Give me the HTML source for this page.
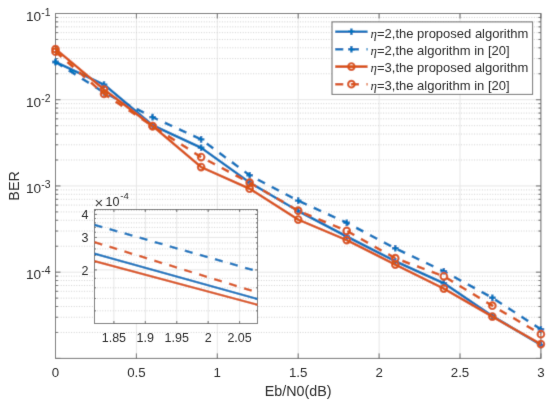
<!DOCTYPE html>
<html><head><meta charset="utf-8"><style>
html,body{margin:0;padding:0;background:#fff;}
body{width:550px;height:406px;position:relative;overflow:hidden;}
</style></head><body>
<svg width="550" height="406" viewBox="0 0 550 406" style="position:absolute;left:0;top:0">
<defs><filter id="soft" x="0" y="0" width="550" height="406" filterUnits="userSpaceOnUse"><feConvolveMatrix order="3" kernelMatrix="0.0144 0.0912 0.0144 0.0912 0.5776 0.0912 0.0144 0.0912 0.0144" edgeMode="duplicate"/></filter><filter id="tsoft" x="0" y="0" width="550" height="406" filterUnits="userSpaceOnUse"><feConvolveMatrix order="3" kernelMatrix="0.0036 0.0528 0.0036 0.0528 0.7744 0.0528 0.0036 0.0528 0.0036" edgeMode="duplicate"/></filter></defs>
<g filter="url(#soft)">
<rect x="0" y="0" width="550" height="406" fill="#fff"/>
<line x1="136.4" y1="13.5" x2="136.4" y2="358.4" stroke="#e6e6e6" stroke-width="1"/>
<line x1="217.3" y1="13.5" x2="217.3" y2="358.4" stroke="#e6e6e6" stroke-width="1"/>
<line x1="298.2" y1="13.5" x2="298.2" y2="358.4" stroke="#e6e6e6" stroke-width="1"/>
<line x1="379.1" y1="13.5" x2="379.1" y2="358.4" stroke="#e6e6e6" stroke-width="1"/>
<line x1="460" y1="13.5" x2="460" y2="358.4" stroke="#e6e6e6" stroke-width="1"/>
<line x1="55.5" y1="99.72" x2="540.9" y2="99.72" stroke="#e6e6e6" stroke-width="1"/>
<line x1="55.5" y1="185.95" x2="540.9" y2="185.95" stroke="#e6e6e6" stroke-width="1"/>
<line x1="55.5" y1="272.17" x2="540.9" y2="272.17" stroke="#e6e6e6" stroke-width="1"/>
<line x1="55.5" y1="332.44" x2="540.9" y2="332.44" stroke="#d0d0d0" stroke-width="1" stroke-dasharray="1 1.6"/>
<line x1="55.5" y1="317.26" x2="540.9" y2="317.26" stroke="#d0d0d0" stroke-width="1" stroke-dasharray="1 1.6"/>
<line x1="55.5" y1="306.49" x2="540.9" y2="306.49" stroke="#d0d0d0" stroke-width="1" stroke-dasharray="1 1.6"/>
<line x1="55.5" y1="298.13" x2="540.9" y2="298.13" stroke="#d0d0d0" stroke-width="1" stroke-dasharray="1 1.6"/>
<line x1="55.5" y1="291.3" x2="540.9" y2="291.3" stroke="#d0d0d0" stroke-width="1" stroke-dasharray="1 1.6"/>
<line x1="55.5" y1="285.53" x2="540.9" y2="285.53" stroke="#d0d0d0" stroke-width="1" stroke-dasharray="1 1.6"/>
<line x1="55.5" y1="280.53" x2="540.9" y2="280.53" stroke="#d0d0d0" stroke-width="1" stroke-dasharray="1 1.6"/>
<line x1="55.5" y1="276.12" x2="540.9" y2="276.12" stroke="#d0d0d0" stroke-width="1" stroke-dasharray="1 1.6"/>
<line x1="55.5" y1="246.22" x2="540.9" y2="246.22" stroke="#d0d0d0" stroke-width="1" stroke-dasharray="1 1.6"/>
<line x1="55.5" y1="231.04" x2="540.9" y2="231.04" stroke="#d0d0d0" stroke-width="1" stroke-dasharray="1 1.6"/>
<line x1="55.5" y1="220.26" x2="540.9" y2="220.26" stroke="#d0d0d0" stroke-width="1" stroke-dasharray="1 1.6"/>
<line x1="55.5" y1="211.91" x2="540.9" y2="211.91" stroke="#d0d0d0" stroke-width="1" stroke-dasharray="1 1.6"/>
<line x1="55.5" y1="205.08" x2="540.9" y2="205.08" stroke="#d0d0d0" stroke-width="1" stroke-dasharray="1 1.6"/>
<line x1="55.5" y1="199.31" x2="540.9" y2="199.31" stroke="#d0d0d0" stroke-width="1" stroke-dasharray="1 1.6"/>
<line x1="55.5" y1="194.31" x2="540.9" y2="194.31" stroke="#d0d0d0" stroke-width="1" stroke-dasharray="1 1.6"/>
<line x1="55.5" y1="189.9" x2="540.9" y2="189.9" stroke="#d0d0d0" stroke-width="1" stroke-dasharray="1 1.6"/>
<line x1="55.5" y1="159.99" x2="540.9" y2="159.99" stroke="#d0d0d0" stroke-width="1" stroke-dasharray="1 1.6"/>
<line x1="55.5" y1="144.81" x2="540.9" y2="144.81" stroke="#d0d0d0" stroke-width="1" stroke-dasharray="1 1.6"/>
<line x1="55.5" y1="134.04" x2="540.9" y2="134.04" stroke="#d0d0d0" stroke-width="1" stroke-dasharray="1 1.6"/>
<line x1="55.5" y1="125.68" x2="540.9" y2="125.68" stroke="#d0d0d0" stroke-width="1" stroke-dasharray="1 1.6"/>
<line x1="55.5" y1="118.85" x2="540.9" y2="118.85" stroke="#d0d0d0" stroke-width="1" stroke-dasharray="1 1.6"/>
<line x1="55.5" y1="113.08" x2="540.9" y2="113.08" stroke="#d0d0d0" stroke-width="1" stroke-dasharray="1 1.6"/>
<line x1="55.5" y1="108.08" x2="540.9" y2="108.08" stroke="#d0d0d0" stroke-width="1" stroke-dasharray="1 1.6"/>
<line x1="55.5" y1="103.67" x2="540.9" y2="103.67" stroke="#d0d0d0" stroke-width="1" stroke-dasharray="1 1.6"/>
<line x1="55.5" y1="73.77" x2="540.9" y2="73.77" stroke="#d0d0d0" stroke-width="1" stroke-dasharray="1 1.6"/>
<line x1="55.5" y1="58.59" x2="540.9" y2="58.59" stroke="#d0d0d0" stroke-width="1" stroke-dasharray="1 1.6"/>
<line x1="55.5" y1="47.81" x2="540.9" y2="47.81" stroke="#d0d0d0" stroke-width="1" stroke-dasharray="1 1.6"/>
<line x1="55.5" y1="39.46" x2="540.9" y2="39.46" stroke="#d0d0d0" stroke-width="1" stroke-dasharray="1 1.6"/>
<line x1="55.5" y1="32.63" x2="540.9" y2="32.63" stroke="#d0d0d0" stroke-width="1" stroke-dasharray="1 1.6"/>
<line x1="55.5" y1="26.86" x2="540.9" y2="26.86" stroke="#d0d0d0" stroke-width="1" stroke-dasharray="1 1.6"/>
<line x1="55.5" y1="21.86" x2="540.9" y2="21.86" stroke="#d0d0d0" stroke-width="1" stroke-dasharray="1 1.6"/>
<line x1="55.5" y1="17.45" x2="540.9" y2="17.45" stroke="#d0d0d0" stroke-width="1" stroke-dasharray="1 1.6"/>
<g stroke="#606060" stroke-width="1" fill="none">
<rect x="55.5" y="13.5" width="485.4" height="344.9"/>
<path d="M55.5 358.4V353.4M55.5 13.5V18.5M136.4 358.4V353.4M136.4 13.5V18.5M217.3 358.4V353.4M217.3 13.5V18.5M298.2 358.4V353.4M298.2 13.5V18.5M379.1 358.4V353.4M379.1 13.5V18.5M460 358.4V353.4M460 13.5V18.5M540.9 358.4V353.4M540.9 13.5V18.5M55.5 13.5H60.5M540.9 13.5H535.9M55.5 99.72H60.5M540.9 99.72H535.9M55.5 185.95H60.5M540.9 185.95H535.9M55.5 272.17H60.5M540.9 272.17H535.9M55.5 358.4H60.5M540.9 358.4H535.9M55.5 332.44H58M540.9 332.44H538.4M55.5 317.26H58M540.9 317.26H538.4M55.5 306.49H58M540.9 306.49H538.4M55.5 298.13H58M540.9 298.13H538.4M55.5 291.3H58M540.9 291.3H538.4M55.5 285.53H58M540.9 285.53H538.4M55.5 280.53H58M540.9 280.53H538.4M55.5 276.12H58M540.9 276.12H538.4M55.5 246.22H58M540.9 246.22H538.4M55.5 231.04H58M540.9 231.04H538.4M55.5 220.26H58M540.9 220.26H538.4M55.5 211.91H58M540.9 211.91H538.4M55.5 205.08H58M540.9 205.08H538.4M55.5 199.31H58M540.9 199.31H538.4M55.5 194.31H58M540.9 194.31H538.4M55.5 189.9H58M540.9 189.9H538.4M55.5 159.99H58M540.9 159.99H538.4M55.5 144.81H58M540.9 144.81H538.4M55.5 134.04H58M540.9 134.04H538.4M55.5 125.68H58M540.9 125.68H538.4M55.5 118.85H58M540.9 118.85H538.4M55.5 113.08H58M540.9 113.08H538.4M55.5 108.08H58M540.9 108.08H538.4M55.5 103.67H58M540.9 103.67H538.4M55.5 73.77H58M540.9 73.77H538.4M55.5 58.59H58M540.9 58.59H538.4M55.5 47.81H58M540.9 47.81H538.4M55.5 39.46H58M540.9 39.46H538.4M55.5 32.63H58M540.9 32.63H538.4M55.5 26.86H58M540.9 26.86H538.4M55.5 21.86H58M540.9 21.86H538.4M55.5 17.45H58M540.9 17.45H538.4"/>
</g>
<polyline points="55.5,62 104.04,84.6 152.58,125.3 201.12,147.7 249.66,182.5 298.2,211 346.74,236.5 395.28,261.2 443.82,283.2 492.36,316 540.9,345" fill="none" stroke="#0072BD" stroke-width="2.6" stroke-linejoin="round"/>
<path d="M52.2 62H58.8M55.5 58.7V65.3" stroke="#0072BD" stroke-width="2.4" fill="none"/>
<path d="M100.74 84.6H107.34M104.04 81.3V87.9" stroke="#0072BD" stroke-width="2.4" fill="none"/>
<path d="M149.28 125.3H155.88M152.58 122V128.6" stroke="#0072BD" stroke-width="2.4" fill="none"/>
<path d="M197.82 147.7H204.42M201.12 144.4V151" stroke="#0072BD" stroke-width="2.4" fill="none"/>
<path d="M246.36 182.5H252.96M249.66 179.2V185.8" stroke="#0072BD" stroke-width="2.4" fill="none"/>
<path d="M294.9 211H301.5M298.2 207.7V214.3" stroke="#0072BD" stroke-width="2.4" fill="none"/>
<path d="M343.44 236.5H350.04M346.74 233.2V239.8" stroke="#0072BD" stroke-width="2.4" fill="none"/>
<path d="M391.98 261.2H398.58M395.28 257.9V264.5" stroke="#0072BD" stroke-width="2.4" fill="none"/>
<path d="M440.52 283.2H447.12M443.82 279.9V286.5" stroke="#0072BD" stroke-width="2.4" fill="none"/>
<path d="M489.06 316H495.66M492.36 312.7V319.3" stroke="#0072BD" stroke-width="2.4" fill="none"/>
<path d="M537.6 345H544.2M540.9 341.7V348.3" stroke="#0072BD" stroke-width="2.4" fill="none"/>
<polyline points="55.5,62 104.04,92.5 152.58,117.1 201.12,139.4 249.66,175.3 298.2,200.65 346.74,222.8 395.28,248.3 443.82,271.3 492.36,297.8 540.9,329.3" fill="none" stroke="#0072BD" stroke-width="2.6" stroke-linejoin="round" stroke-dasharray="8.1 7.55"/>
<path d="M52.2 62H58.8M55.5 58.7V65.3" stroke="#0072BD" stroke-width="2.4" fill="none"/>
<path d="M100.74 92.5H107.34M104.04 89.2V95.8" stroke="#0072BD" stroke-width="2.4" fill="none"/>
<path d="M149.28 117.1H155.88M152.58 113.8V120.4" stroke="#0072BD" stroke-width="2.4" fill="none"/>
<path d="M197.82 139.4H204.42M201.12 136.1V142.7" stroke="#0072BD" stroke-width="2.4" fill="none"/>
<path d="M246.36 175.3H252.96M249.66 172V178.6" stroke="#0072BD" stroke-width="2.4" fill="none"/>
<path d="M294.9 200.65H301.5M298.2 197.35V203.95" stroke="#0072BD" stroke-width="2.4" fill="none"/>
<path d="M343.44 222.8H350.04M346.74 219.5V226.1" stroke="#0072BD" stroke-width="2.4" fill="none"/>
<path d="M391.98 248.3H398.58M395.28 245V251.6" stroke="#0072BD" stroke-width="2.4" fill="none"/>
<path d="M440.52 271.3H447.12M443.82 268V274.6" stroke="#0072BD" stroke-width="2.4" fill="none"/>
<path d="M489.06 297.8H495.66M492.36 294.5V301.1" stroke="#0072BD" stroke-width="2.4" fill="none"/>
<path d="M537.6 329.3H544.2M540.9 326V332.6" stroke="#0072BD" stroke-width="2.4" fill="none"/>
<polyline points="55.5,49 104.04,89.5 152.58,126.1 201.12,167.1 249.66,188.7 298.2,219.6 346.74,240.1 395.28,264.6 443.82,288.6 492.36,316.6 540.9,344.1" fill="none" stroke="#D95319" stroke-width="2.6" stroke-linejoin="round"/>
<circle cx="55.5" cy="49" r="3.3" fill="none" stroke="#D95319" stroke-width="2.1"/>
<circle cx="104.04" cy="89.5" r="3.3" fill="none" stroke="#D95319" stroke-width="2.1"/>
<circle cx="152.58" cy="126.1" r="3.3" fill="none" stroke="#D95319" stroke-width="2.1"/>
<circle cx="201.12" cy="167.1" r="3.3" fill="none" stroke="#D95319" stroke-width="2.1"/>
<circle cx="249.66" cy="188.7" r="3.3" fill="none" stroke="#D95319" stroke-width="2.1"/>
<circle cx="298.2" cy="219.6" r="3.3" fill="none" stroke="#D95319" stroke-width="2.1"/>
<circle cx="346.74" cy="240.1" r="3.3" fill="none" stroke="#D95319" stroke-width="2.1"/>
<circle cx="395.28" cy="264.6" r="3.3" fill="none" stroke="#D95319" stroke-width="2.1"/>
<circle cx="443.82" cy="288.6" r="3.3" fill="none" stroke="#D95319" stroke-width="2.1"/>
<circle cx="492.36" cy="316.6" r="3.3" fill="none" stroke="#D95319" stroke-width="2.1"/>
<circle cx="540.9" cy="344.1" r="3.3" fill="none" stroke="#D95319" stroke-width="2.1"/>
<polyline points="55.5,51.7 104.04,94 152.58,126.1 201.12,157.1 249.66,182.7 298.2,210.7 346.74,230.9 395.28,258.2 443.82,276.3 492.36,305.7 540.9,334.2" fill="none" stroke="#D95319" stroke-width="2.6" stroke-linejoin="round" stroke-dasharray="8.1 7.55"/>
<circle cx="55.5" cy="51.7" r="3.3" fill="none" stroke="#D95319" stroke-width="2.1"/>
<circle cx="104.04" cy="94" r="3.3" fill="none" stroke="#D95319" stroke-width="2.1"/>
<circle cx="152.58" cy="126.1" r="3.3" fill="none" stroke="#D95319" stroke-width="2.1"/>
<circle cx="201.12" cy="157.1" r="3.3" fill="none" stroke="#D95319" stroke-width="2.1"/>
<circle cx="249.66" cy="182.7" r="3.3" fill="none" stroke="#D95319" stroke-width="2.1"/>
<circle cx="298.2" cy="210.7" r="3.3" fill="none" stroke="#D95319" stroke-width="2.1"/>
<circle cx="346.74" cy="230.9" r="3.3" fill="none" stroke="#D95319" stroke-width="2.1"/>
<circle cx="395.28" cy="258.2" r="3.3" fill="none" stroke="#D95319" stroke-width="2.1"/>
<circle cx="443.82" cy="276.3" r="3.3" fill="none" stroke="#D95319" stroke-width="2.1"/>
<circle cx="492.36" cy="305.7" r="3.3" fill="none" stroke="#D95319" stroke-width="2.1"/>
<circle cx="540.9" cy="334.2" r="3.3" fill="none" stroke="#D95319" stroke-width="2.1"/>
<rect x="332" y="21.9" width="200.6" height="72.5" fill="#fff" stroke="#606060" stroke-width="1"/>
<polyline points="335.2,31.8 367.6,31.8" fill="none" stroke="#0072BD" stroke-width="2.6" stroke-linejoin="round"/>
<path d="M348.1 31.8H354.7M351.4 28.5V35.1" stroke="#0072BD" stroke-width="2.4" fill="none"/>
<polyline points="335.2,49.2 367.6,49.2" fill="none" stroke="#0072BD" stroke-width="2.6" stroke-linejoin="round" stroke-dasharray="8.1 7.55"/>
<path d="M348.1 49.2H354.7M351.4 45.9V52.5" stroke="#0072BD" stroke-width="2.4" fill="none"/>
<polyline points="335.2,66.6 367.6,66.6" fill="none" stroke="#D95319" stroke-width="2.6" stroke-linejoin="round"/>
<circle cx="351.4" cy="66.6" r="3.3" fill="none" stroke="#D95319" stroke-width="2.1"/>
<polyline points="335.2,84.2 367.6,84.2" fill="none" stroke="#D95319" stroke-width="2.6" stroke-linejoin="round" stroke-dasharray="8.1 7.55"/>
<circle cx="351.4" cy="84.2" r="3.3" fill="none" stroke="#D95319" stroke-width="2.1"/>
<rect x="94.5" y="209.5" width="163" height="114" fill="#fff"/>
<line x1="113.9" y1="209.5" x2="113.9" y2="323.5" stroke="#e6e6e6" stroke-width="1"/>
<line x1="145.32" y1="209.5" x2="145.32" y2="323.5" stroke="#e6e6e6" stroke-width="1"/>
<line x1="176.75" y1="209.5" x2="176.75" y2="323.5" stroke="#e6e6e6" stroke-width="1"/>
<line x1="208.17" y1="209.5" x2="208.17" y2="323.5" stroke="#e6e6e6" stroke-width="1"/>
<line x1="239.6" y1="209.5" x2="239.6" y2="323.5" stroke="#e6e6e6" stroke-width="1"/>
<line x1="94.5" y1="269.91" x2="257.5" y2="269.91" stroke="#e6e6e6" stroke-width="1"/>
<line x1="94.5" y1="237.44" x2="257.5" y2="237.44" stroke="#e6e6e6" stroke-width="1"/>
<line x1="94.5" y1="214.4" x2="257.5" y2="214.4" stroke="#e6e6e6" stroke-width="1"/>
<line x1="94.5" y1="310.82" x2="257.5" y2="310.82" stroke="#d0d0d0" stroke-width="1" stroke-dasharray="1 1.6"/>
<line x1="94.5" y1="298.47" x2="257.5" y2="298.47" stroke="#d0d0d0" stroke-width="1" stroke-dasharray="1 1.6"/>
<line x1="94.5" y1="287.78" x2="257.5" y2="287.78" stroke="#d0d0d0" stroke-width="1" stroke-dasharray="1 1.6"/>
<line x1="94.5" y1="278.35" x2="257.5" y2="278.35" stroke="#d0d0d0" stroke-width="1" stroke-dasharray="1 1.6"/>
<line x1="94.5" y1="262.28" x2="257.5" y2="262.28" stroke="#d0d0d0" stroke-width="1" stroke-dasharray="1 1.6"/>
<line x1="94.5" y1="255.31" x2="257.5" y2="255.31" stroke="#d0d0d0" stroke-width="1" stroke-dasharray="1 1.6"/>
<line x1="94.5" y1="248.9" x2="257.5" y2="248.9" stroke="#d0d0d0" stroke-width="1" stroke-dasharray="1 1.6"/>
<line x1="94.5" y1="242.96" x2="257.5" y2="242.96" stroke="#d0d0d0" stroke-width="1" stroke-dasharray="1 1.6"/>
<line x1="94.5" y1="232.27" x2="257.5" y2="232.27" stroke="#d0d0d0" stroke-width="1" stroke-dasharray="1 1.6"/>
<line x1="94.5" y1="227.42" x2="257.5" y2="227.42" stroke="#d0d0d0" stroke-width="1" stroke-dasharray="1 1.6"/>
<line x1="94.5" y1="222.84" x2="257.5" y2="222.84" stroke="#d0d0d0" stroke-width="1" stroke-dasharray="1 1.6"/>
<line x1="94.5" y1="218.51" x2="257.5" y2="218.51" stroke="#d0d0d0" stroke-width="1" stroke-dasharray="1 1.6"/>
<line x1="94.5" y1="210.49" x2="257.5" y2="210.49" stroke="#d0d0d0" stroke-width="1" stroke-dasharray="1 1.6"/>
<g stroke="#606060" stroke-width="1" fill="none">
<rect x="94.5" y="209.5" width="163" height="114"/>
<path d="M113.9 323.5V321M113.9 209.5V212M145.32 323.5V321M145.32 209.5V212M176.75 323.5V321M176.75 209.5V212M208.17 323.5V321M208.17 209.5V212M239.6 323.5V321M239.6 209.5V212M94.5 269.91H97M257.5 269.91H255M94.5 237.44H97M257.5 237.44H255M94.5 214.4H97M257.5 214.4H255M94.5 310.82H96M257.5 310.82H256M94.5 298.47H96M257.5 298.47H256M94.5 287.78H96M257.5 287.78H256M94.5 278.35H96M257.5 278.35H256M94.5 262.28H96M257.5 262.28H256M94.5 255.31H96M257.5 255.31H256M94.5 248.9H96M257.5 248.9H256M94.5 242.96H96M257.5 242.96H256M94.5 232.27H96M257.5 232.27H256M94.5 227.42H96M257.5 227.42H256M94.5 222.84H96M257.5 222.84H256M94.5 218.51H96M257.5 218.51H256M94.5 210.49H96M257.5 210.49H256"/>
</g>
<polyline points="94.5,253.74 257.5,299.04" fill="none" stroke="#0072BD" stroke-width="2.35" stroke-linejoin="round"/>
<polyline points="94.5,224.83 257.5,271.34" fill="none" stroke="#0072BD" stroke-width="2.35" stroke-linejoin="round" stroke-dasharray="8.1 7.55"/>
<polyline points="94.5,261.21 257.5,304.78" fill="none" stroke="#D95319" stroke-width="2.35" stroke-linejoin="round"/>
<polyline points="94.5,242.12 257.5,292.52" fill="none" stroke="#D95319" stroke-width="2.35" stroke-linejoin="round" stroke-dasharray="8.1 7.55"/>
</g>
<g filter="url(#tsoft)">
<g font-family="'Liberation Sans', Arial, Helvetica, sans-serif" fill="#2e2e2e">
<text x="55.5" y="376.9" font-size="13.3" text-anchor="middle">0</text>
<text x="136.4" y="376.9" font-size="13.3" text-anchor="middle">0.5</text>
<text x="217.3" y="376.9" font-size="13.3" text-anchor="middle">1</text>
<text x="298.2" y="376.9" font-size="13.3" text-anchor="middle">1.5</text>
<text x="379.1" y="376.9" font-size="13.3" text-anchor="middle">2</text>
<text x="460" y="376.9" font-size="13.3" text-anchor="middle">2.5</text>
<text x="540.9" y="376.9" font-size="13.3" text-anchor="middle">3</text>
<text x="41.2" y="20.7" font-size="13.6" text-anchor="end">10</text>
<text x="41.2" y="15.5" font-size="10.4">-1</text>
<text x="41.2" y="106.92" font-size="13.6" text-anchor="end">10</text>
<text x="41.2" y="101.72" font-size="10.4">-2</text>
<text x="41.2" y="193.15" font-size="13.6" text-anchor="end">10</text>
<text x="41.2" y="187.95" font-size="10.4">-3</text>
<text x="41.2" y="279.37" font-size="13.6" text-anchor="end">10</text>
<text x="41.2" y="274.17" font-size="10.4">-4</text>
<text x="298.2" y="396" font-size="14.3" text-anchor="middle">Eb/N0(dB)</text>
<text transform="translate(19.2 185.95) rotate(-90)" font-size="14.3" text-anchor="middle">BER</text>
</g>
<text x="370.5" y="37.6" font-family="'Liberation Sans', Arial, Helvetica, sans-serif" font-size="13" fill="#2e2e2e"><tspan font-family="'Liberation Serif', serif" font-style="italic">&#951;</tspan>=2,the proposed algorithm</text>
<text x="370.5" y="55" font-family="'Liberation Sans', Arial, Helvetica, sans-serif" font-size="13" fill="#2e2e2e"><tspan font-family="'Liberation Serif', serif" font-style="italic">&#951;</tspan>=2,the algorithm in [20]</text>
<text x="370.5" y="72.4" font-family="'Liberation Sans', Arial, Helvetica, sans-serif" font-size="13" fill="#2e2e2e"><tspan font-family="'Liberation Serif', serif" font-style="italic">&#951;</tspan>=3,the proposed algorithm</text>
<text x="370.5" y="90" font-family="'Liberation Sans', Arial, Helvetica, sans-serif" font-size="13" fill="#2e2e2e"><tspan font-family="'Liberation Serif', serif" font-style="italic">&#951;</tspan>=3,the algorithm in [20]</text>
<g font-family="'Liberation Sans', Arial, Helvetica, sans-serif" fill="#2e2e2e" font-size="12.5">
<text x="113.9" y="342" text-anchor="middle">1.85</text>
<text x="145.32" y="342" text-anchor="middle">1.9</text>
<text x="176.75" y="342" text-anchor="middle">1.95</text>
<text x="208.17" y="342" text-anchor="middle">2</text>
<text x="239.6" y="342" text-anchor="middle">2.05</text>
<text x="88.5" y="274.91" text-anchor="end">2</text>
<text x="88.5" y="242.44" text-anchor="end">3</text>
<text x="88.5" y="219.4" text-anchor="end">4</text>
<text x="94.6" y="207.8" font-size="15" fill="#444">&#215;</text>
<text x="105.6" y="206" font-size="12.5">10</text>
<text x="120.2" y="199.2" font-size="9.6">-4</text>
</g>
</g>
</svg>
</body></html>
